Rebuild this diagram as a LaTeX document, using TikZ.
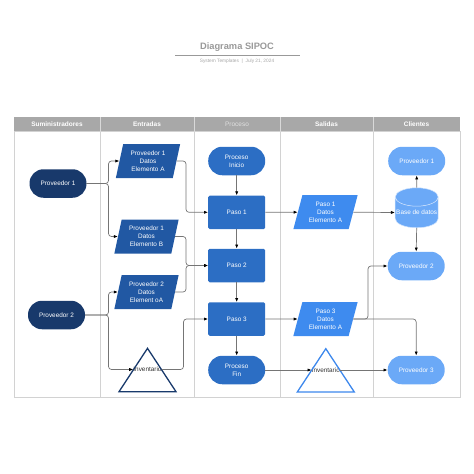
\documentclass[tikz,border=0pt]{standalone}
\usepackage{fontspec}
\setmainfont{Liberation Sans}
\usetikzlibrary{shapes.geometric,arrows.meta,calc}
\definecolor{navy}{HTML}{18396B}
\definecolor{inC}{HTML}{2158A3}
\definecolor{procC}{HTML}{2C6EC4}
\definecolor{outC}{HTML}{3E8BEF}
\definecolor{cliC}{HTML}{6BA9F7}
\definecolor{hdrC}{HTML}{A8A8A8}
\definecolor{gridC}{HTML}{D2D2D2}
\definecolor{lineC}{HTML}{757575}
\definecolor{triB}{HTML}{3C87EC}
\begin{document}
\begin{tikzpicture}[x=1pt,y=-1pt,
  txt/.style={font=\fontsize{6.4}{8}\selectfont, text=white, align=center, inner sep=0pt},
  term/.style={txt, rectangle, rounded corners=14, minimum width=57, minimum height=28.5},
  stepbox/.style={txt, rectangle, rounded corners=1.5, fill=procC, minimum width=57, minimum height=33.5},
  para/.style={txt, trapezium, trapezium stretches=true, minimum width=64.4, minimum height=34},
  parain/.style={para, fill=inC, trapezium left angle=76, trapezium right angle=104},
  paraout/.style={para, fill=outC, trapezium left angle=72.5, trapezium right angle=107.5},
  invtxt/.style={font=\fontsize{6.4}{8}\selectfont, text=black!80, inner sep=0pt},
  tri/.style={line width=1.3, line join=miter},
  hdr/.style={font=\bfseries\fontsize{6.5}{8}\selectfont, text=white},
  conn/.style={draw=lineC, line width=0.7, rounded corners=3, -{Latex[length=4,width=3.2,color=black]}},
  plain/.style={draw=lineC, line width=0.7, rounded corners=3}]
\useasboundingbox (0,0) rectangle (474,474);
% title
\node[font=\bfseries\fontsize{9.3}{11}\selectfont, text=black!40] (title) at (237,47) {Diagrama SIPOC};
\draw[black!40, line width=0.6] (175,55.5) -- (300,55.5);
\node[font=\fontsize{4.8}{6}\selectfont, text=black!35] (sub) at (237,61.5) {System Templates\ \ |\ \ July 21, 2024};
% table
\fill[hdrC] (14,117.3) rectangle (460,131.7);
\draw[gridC, line width=0.6] (14,131.7) rectangle (460,397);
\foreach \x in {100,194,280,373} {
  \draw[gridC, line width=0.6] (\x,131.7) -- (\x,397);
  \draw[white!85!black, line width=0.6] (\x,117.3) -- (\x,131.7);
}
\node[hdr] (h1) at (57,124.5) {Suministradores};
\node[hdr] (h2) at (147,124.5) {Entradas};
\node[font=\fontsize{6.5}{8}\selectfont, text=white!88!black] (h3) at (237,124.5) {Proceso};
\node[hdr] (h4) at (326.5,124.5) {Salidas};
\node[hdr] (h5) at (416.5,124.5) {Clientes};
% suppliers
\node[term, fill=navy] (p1) at (58,183.5) {Proveedor 1};
\node[term, fill=navy] (p2) at (56.5,315) {Proveedor 2};
% inputs
\node[parain] (dA) at (148,161) {Proveedor 1\\Datos\\Elemento A};
\node[parain] (dB) at (146.5,236.5) {Proveedor 1\\Datos\\Elemento B};
\node[parain] (dC) at (146.5,292) {Proveedor 2\\Datos\\Element oA};
\node[invtxt] (inv1) at (147.5,369.5) {Inventario};
\draw[tri, draw=navy] ($(inv1)+(0,-21.2)$) -- ($(inv1)+(28.5,22.2)$) -- ($(inv1)+(-28.5,22.2)$) -- cycle;
% process
\node[term, fill=procC] (ini) at (236.7,161) {Proceso\\Inicio};
\node[stepbox] (s1) at (236.7,212.3) {Paso 1};
\node[stepbox] (s2) at (236.7,265.5) {Paso 2};
\node[stepbox] (s3) at (236.7,319) {Paso 3};
\node[term, fill=procC] (fin) at (236.7,370) {Proceso\\Fin};
% outputs
\node[paraout] (o1) at (325.5,212.2) {Paso 1\\Datos\\Elemento A};
\node[paraout] (o3) at (325.5,319) {Paso 3\\Datos\\Elemento A};
\node[invtxt] (inv2) at (325.8,370) {Inventario};
\draw[tri, draw=triB] ($(inv2)+(0,-21.3)$) -- ($(inv2)+(28.5,22)$) -- ($(inv2)+(-28.5,22)$) -- cycle;
% clients
\node[term, fill=cliC] (c1) at (416.7,161) {Proveedor 1};
\node[txt, cylinder, shape border rotate=90, aspect=0.45, minimum height=40, minimum width=43,
      cylinder uses custom fill, cylinder body fill=cliC, cylinder end fill=cliC, draw=white!70!cliC, line width=0.5] (db) at (416.7,212.5) {Base de datos};
\node[term, fill=cliC] (c2) at (416.2,266) {Proveedor 2};
\node[term, fill=cliC] (c3) at (416.2,370) {Proveedor 3};
% junction coordinates
\coordinate (j1) at (108.5,0);
\coordinate (j2) at (186,0);
\coordinate (j3) at (183.5,0);
\coordinate (j4) at (368,0);
% connectors
\draw[conn] (p1.east) -- (p1.east -| j1) |- (dA.west);
\draw[conn] (p1.east) -- (p1.east -| j1) |- (dB.west);
\draw[conn] (p2.east) -- (p2.east -| j1) |- (dC.west);
\draw[conn] (p2.east) -- (p2.east -| j1) |- (inv1.west);
\draw[conn] (dA.east) -- (dA.east -| j2) |- (s1.west);
\draw[conn] (dB.east) -- (dB.east -| j2) |- (s2.west);
\draw[conn] (dC.east) -- (dC.east -| j2) |- (s2.west);
\draw[conn] (inv1.east) -- (inv1.east -| j3) |- (s3.west);
\draw[conn] (ini.south) -- (s1.north);
\draw[conn] (s1.south) -- (s2.north);
\draw[conn] (s2.south) -- (s3.north);
\draw[conn] (s3.south) -- (fin.north);
\draw[conn] (s1.east) -- (o1.west);
\draw[conn] (s3.east) -- (o3.west);
\draw[conn] (fin.east) -- (inv2.west);
\draw[conn] (o1.east) -- (db.west);
\draw[conn] (db.north) -- (c1.south);
\draw[conn] (db.south) -- (c2.north);
\draw[conn] (o3.east) -- (o3.east -| j4) |- (c2.west);
\draw[conn] (o3.east) -| (c3.north);
\draw[conn] (inv2.east) -- (c3.west);
\end{tikzpicture}
\end{document}
